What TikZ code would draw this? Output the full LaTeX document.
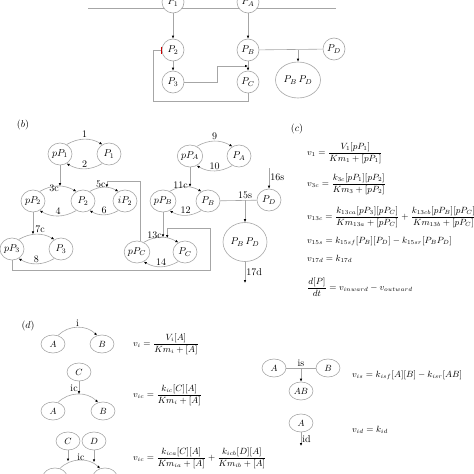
\documentclass[tikz,border=0pt]{standalone}
\usepackage{amsmath}
\usepackage{amssymb}
\usetikzlibrary{arrows.meta,shapes.geometric,calc}

\begin{document}
\begin{tikzpicture}[x=1pt,y=1pt,
    >={Latex[length=3pt,width=2.6pt,black]},
    ln/.style={draw=gray!70,line width=0.6pt},
    spa/.style={circle,draw=gray!70,line width=0.6pt,fill=white,minimum size=22pt,inner sep=0pt,font=\normalsize},
    spc/.style={ellipse,draw=gray!70,line width=0.6pt,fill=white,minimum width=24pt,minimum height=22pt,inner sep=0pt,font=\normalsize},
    spd/.style={ellipse,draw=gray!70,line width=0.6pt,fill=white,minimum width=24pt,minimum height=18pt,inner sep=0pt,font=\small},
    lbl/.style={font=\normalsize,inner sep=1pt},
    eqn/.style={anchor=west,inner sep=0pt,font=\small}]
  \useasboundingbox (0,0) rectangle (474,-474);

  % (a)
  \coordinate (m1) at (88,-8); \coordinate (m2) at (336,-8);
  \draw[ln] (m1) -- (m2);
  \node[spa] (aP1) at (173,-2) {$P_1$};
  \node[spa] (aPA) at (248,-2) {$P_A$};
  \node[spa] (aP2) at (173,-50) {$P_2$};
  \node[spa] (aPB) at (248,-50) {$P_B$};
  \node[spa] (aPD) at (334,-49) {$P_D$};
  \node[spa] (aP3) at (173,-82) {$P_3$};
  \node[spa] (aPC) at (248,-82) {$P_C$};
  \node[spa,ellipse,minimum width=45pt,minimum height=36pt] (aPBPD) at (298,-80) {$P_B\,P_D$};
  \coordinate (aBC) at ($(aPB)!0.5!(aPC)$);
  \coordinate (aFB) at (153,-101);
  \draw[ln,->] (aP1) -- (aP2);
  \draw[ln,->] (aPA) -- (aPB);
  \draw[ln,->] (aP2) -- (aP3);
  \draw[ln,->] (aPB) -- (aPC);
  \draw[ln] (aPB) -- (aPD);
  \draw[ln,->] (aPBPD |- aPB) -- (aPBPD);
  \draw[ln,->] (aP3.east) -- ++(33,0) |- (aBC);
  \draw[ln,-{Bar[width=7pt,line width=1.2pt,red!80!black]}] (aPC.south) |- (aFB) |- (aP2.west);

  % (b)
  \node[lbl] at (23,-125) {$(b)$};
  \node[spc] (pP1) at (60,-154) {$pP_1$};
  \node[spc] (P1) at (109,-154) {$P_1$};
  \node[spc] (pP2) at (33,-201) {$pP_2$};
  \node[spc] (P2) at (83,-201) {$P_2$};
  \node[spc] (iP2) at (125,-201) {$iP_2$};
  \node[spc] (pP3) at (12,-249) {$pP_3$};
  \node[spc] (P3) at (61,-249) {$P_3$};
  \node[spc] (pPC) at (137,-252) {$pP_C$};
  \node[spc] (PC) at (185,-252) {$P_C$};
  \node[spc] (pPA) at (190,-156) {$pP_A$};
  \node[spc] (PA) at (239,-156) {$P_A$};
  \node[spc] (pPB) at (163,-201) {$pP_B$};
  \node[spc] (PB) at (208,-201) {$P_B$};
  \node[spc] (PD) at (269,-200) {$P_D$};
  \node[spc,minimum width=44pt,minimum height=39pt] (PBPD) at (245,-242) {$P_B\,P_D$};

  \draw[ln,->] (pP1.55) to[out=30,in=150] node[lbl,above] {1} (P1.125);
  \draw[ln,->] (P1.235) to[out=-150,in=-30] node[lbl,above] {2} (pP1.-55);
  \draw[ln,->] (pP2.55) to[out=30,in=150] coordinate[pos=0.5] (r3) (P2.125);
  \draw[ln,->] (P2.235) to[out=-150,in=-30] node[lbl,above] {4} (pP2.-55);
  \draw[ln,->] (P2.55) to[out=30,in=150] coordinate[pos=0.6] (r5) (iP2.125);
  \draw[ln,->] (iP2.235) to[out=-150,in=-30] node[lbl,above] {6} (P2.-55);
  \draw[ln,->] (pP3.55) to[out=30,in=150] coordinate[pos=0.5] (r7) (P3.125);
  \draw[ln,->] (P3.235) to[out=-150,in=-30] node[lbl,above] {8} (pP3.-55);
  \draw[ln,->] (pPA.55) to[out=30,in=150] node[lbl,above] {9} (PA.125);
  \draw[ln,->] (PA.235) to[out=-150,in=-30] node[lbl,above] {10} (pPA.-55);
  \draw[ln,->] (pPB.55) to[out=30,in=150] coordinate[pos=0.6] (r11) (PB.125);
  \draw[ln,->] (PB.235) to[out=-150,in=-30] node[lbl,above] {12} (pPB.-55);
  \draw[ln,->] (pPC.55) to[out=30,in=150] coordinate[pos=0.5] (r13) coordinate[pos=0.68] (r13b) (PC.125);
  \draw[ln,->] (PC.235) to[out=-150,in=-30] node[lbl,above] {14} (pPC.-55);

  \draw[ln,->] (pP1) -- (pP1 |- r3) node[lbl,pos=1,left,yshift=-2pt] {3c};
  \draw[ln,->] (pP2) -- (pP2 |- r7) node[lbl,pos=1,above right,xshift=1pt] {7c};
  \draw[ln,->] (pPA) -- (pPA |- r11) node[lbl,pos=1,left,xshift=-1pt,yshift=2pt] {11c};
  \draw[ln,->] (pPB) -- (pPB |- r13) node[lbl,pos=1,left,yshift=2pt] {13c};
  \draw[ln,->] (pPC.75) |- ($(r5)+(0,6)$) -- (r5) node[lbl,pos=0,left,yshift=-3pt] {5c};
  \coordinate (boxBR) at (210,-270); \coordinate (boxTR) at (210,-228);
  \draw[ln,->] (pP3.south) |- (boxBR) -- (boxTR) -| (r13b);

  \draw[ln] (PB) -- (PD);
  \draw[ln,->] (PBPD |- PD) node[lbl,above] {15s} -- (PBPD);
  \coordinate (s16) at (269,-168); \coordinate (d17) at (245,-283);
  \draw[ln,->] (s16) -- (PD) node[lbl,pos=0.45,right] {16s};
  \draw[ln,->] (PBPD) -- (d17) node[lbl,pos=0.5,right] {17d};

  % (c)
  \node[lbl] at (297,-129) {$(c)$};
  \node[eqn] (e1) at (307,-153) {$v_1 = \dfrac{V_1[pP_1]}{Km_1+[pP_1]}$};
  \node[eqn] (e3) at (307,-184) {$v_{3c} = \dfrac{k_{3c}[pP_1][pP_2]}{Km_3+[pP_2]}$};
  \node[eqn] (e13) at (307,-217) {$v_{13c} = \dfrac{k_{13ca}[pP_3][pP_C]}{Km_{13a}+[pP_C]} + \dfrac{k_{13cb}[pP_B][pP_C]}{Km_{13b}+[pP_C]}$};
  \node[eqn] (e15) at (307,-241) {$v_{15s} = k_{15sf}[P_B][P_D] - k_{15sr}[P_BP_D]$};
  \node[eqn] (e17) at (307,-259) {$v_{17d} = k_{17d}$};
  \node[eqn] (eP) at (307,-287) {$\dfrac{d[P]}{dt} = v_{inward} - v_{outward}$};

  % (d)
  \node[lbl] at (28,-326) {$(d)$};
  \node[spd] (A1) at (53,-344) {$A$};
  \node[spd] (B1) at (102,-344) {$B$};
  \draw[ln,->] (A1.60) to[out=45,in=135] node[lbl,above] {i} (B1.120);
  \node[eqn] at (133,-344) {$v_i = \dfrac{V_i[A]}{Km_i+[A]}$};

  \node[spd] (C2) at (79,-372) {$C$};
  \node[spd] (A2) at (53,-411) {$A$};
  \node[spd] (B2) at (103,-411) {$B$};
  \draw[ln,->] (A2.60) to[out=45,in=135] coordinate[pos=0.5] (ric) (B2.120);
  \draw[ln,->] (C2) -- (C2 |- ric) node[lbl,pos=0.55,left] {ic};
  \node[eqn] at (133,-395) {$v_{ic} = \dfrac{k_{ic}[C][A]}{Km_i+[A]}$};

  \node[spd] (C3) at (68,-441) {$C$};
  \node[spd] (D3) at (94,-441) {$D$};
  \node[spd] (A3) at (55,-477) {};
  \node[spd] (B3) at (105,-477) {};
  \draw[ln,->] (A3.60) to[out=45,in=135] coordinate[pos=0.3] (rica) coordinate[pos=0.75] (ricb) (B3.120);
  \draw[ln,->] (C3) -- (C3 |- rica);
  \draw[ln,->] (D3) -- (D3 |- ricb);
  \node[lbl] at (81,-457) {ic};
  \node[eqn] at (133,-458) {$v_{ic} = \dfrac{k_{ica}[C][A]}{Km_{ia}+[A]} + \dfrac{k_{icb}[D][A]}{Km_{ib}+[A]}$};

  \node[spd] (A4) at (274,-368) {$A$};
  \node[spd] (B4) at (328,-368) {$B$};
  \node[spd] (AB) at (301,-391) {$AB$};
  \draw[ln] (A4) -- (B4);
  \draw[ln,->] (AB |- A4) node[lbl,above] {is} -- (AB);
  \node[eqn] at (352,-375) {$v_{is} = k_{isf}[A][B] - k_{isr}[AB]$};

  \node[spd] (A5) at (301,-423) {$A$};
  \coordinate (d5) at (301,-446);
  \draw[ln,->] (A5) -- (d5) node[lbl,pos=0.5,right] {id};
  \node[eqn] at (352,-430) {$v_{id} = k_{id}$};
\end{tikzpicture}
\end{document}
